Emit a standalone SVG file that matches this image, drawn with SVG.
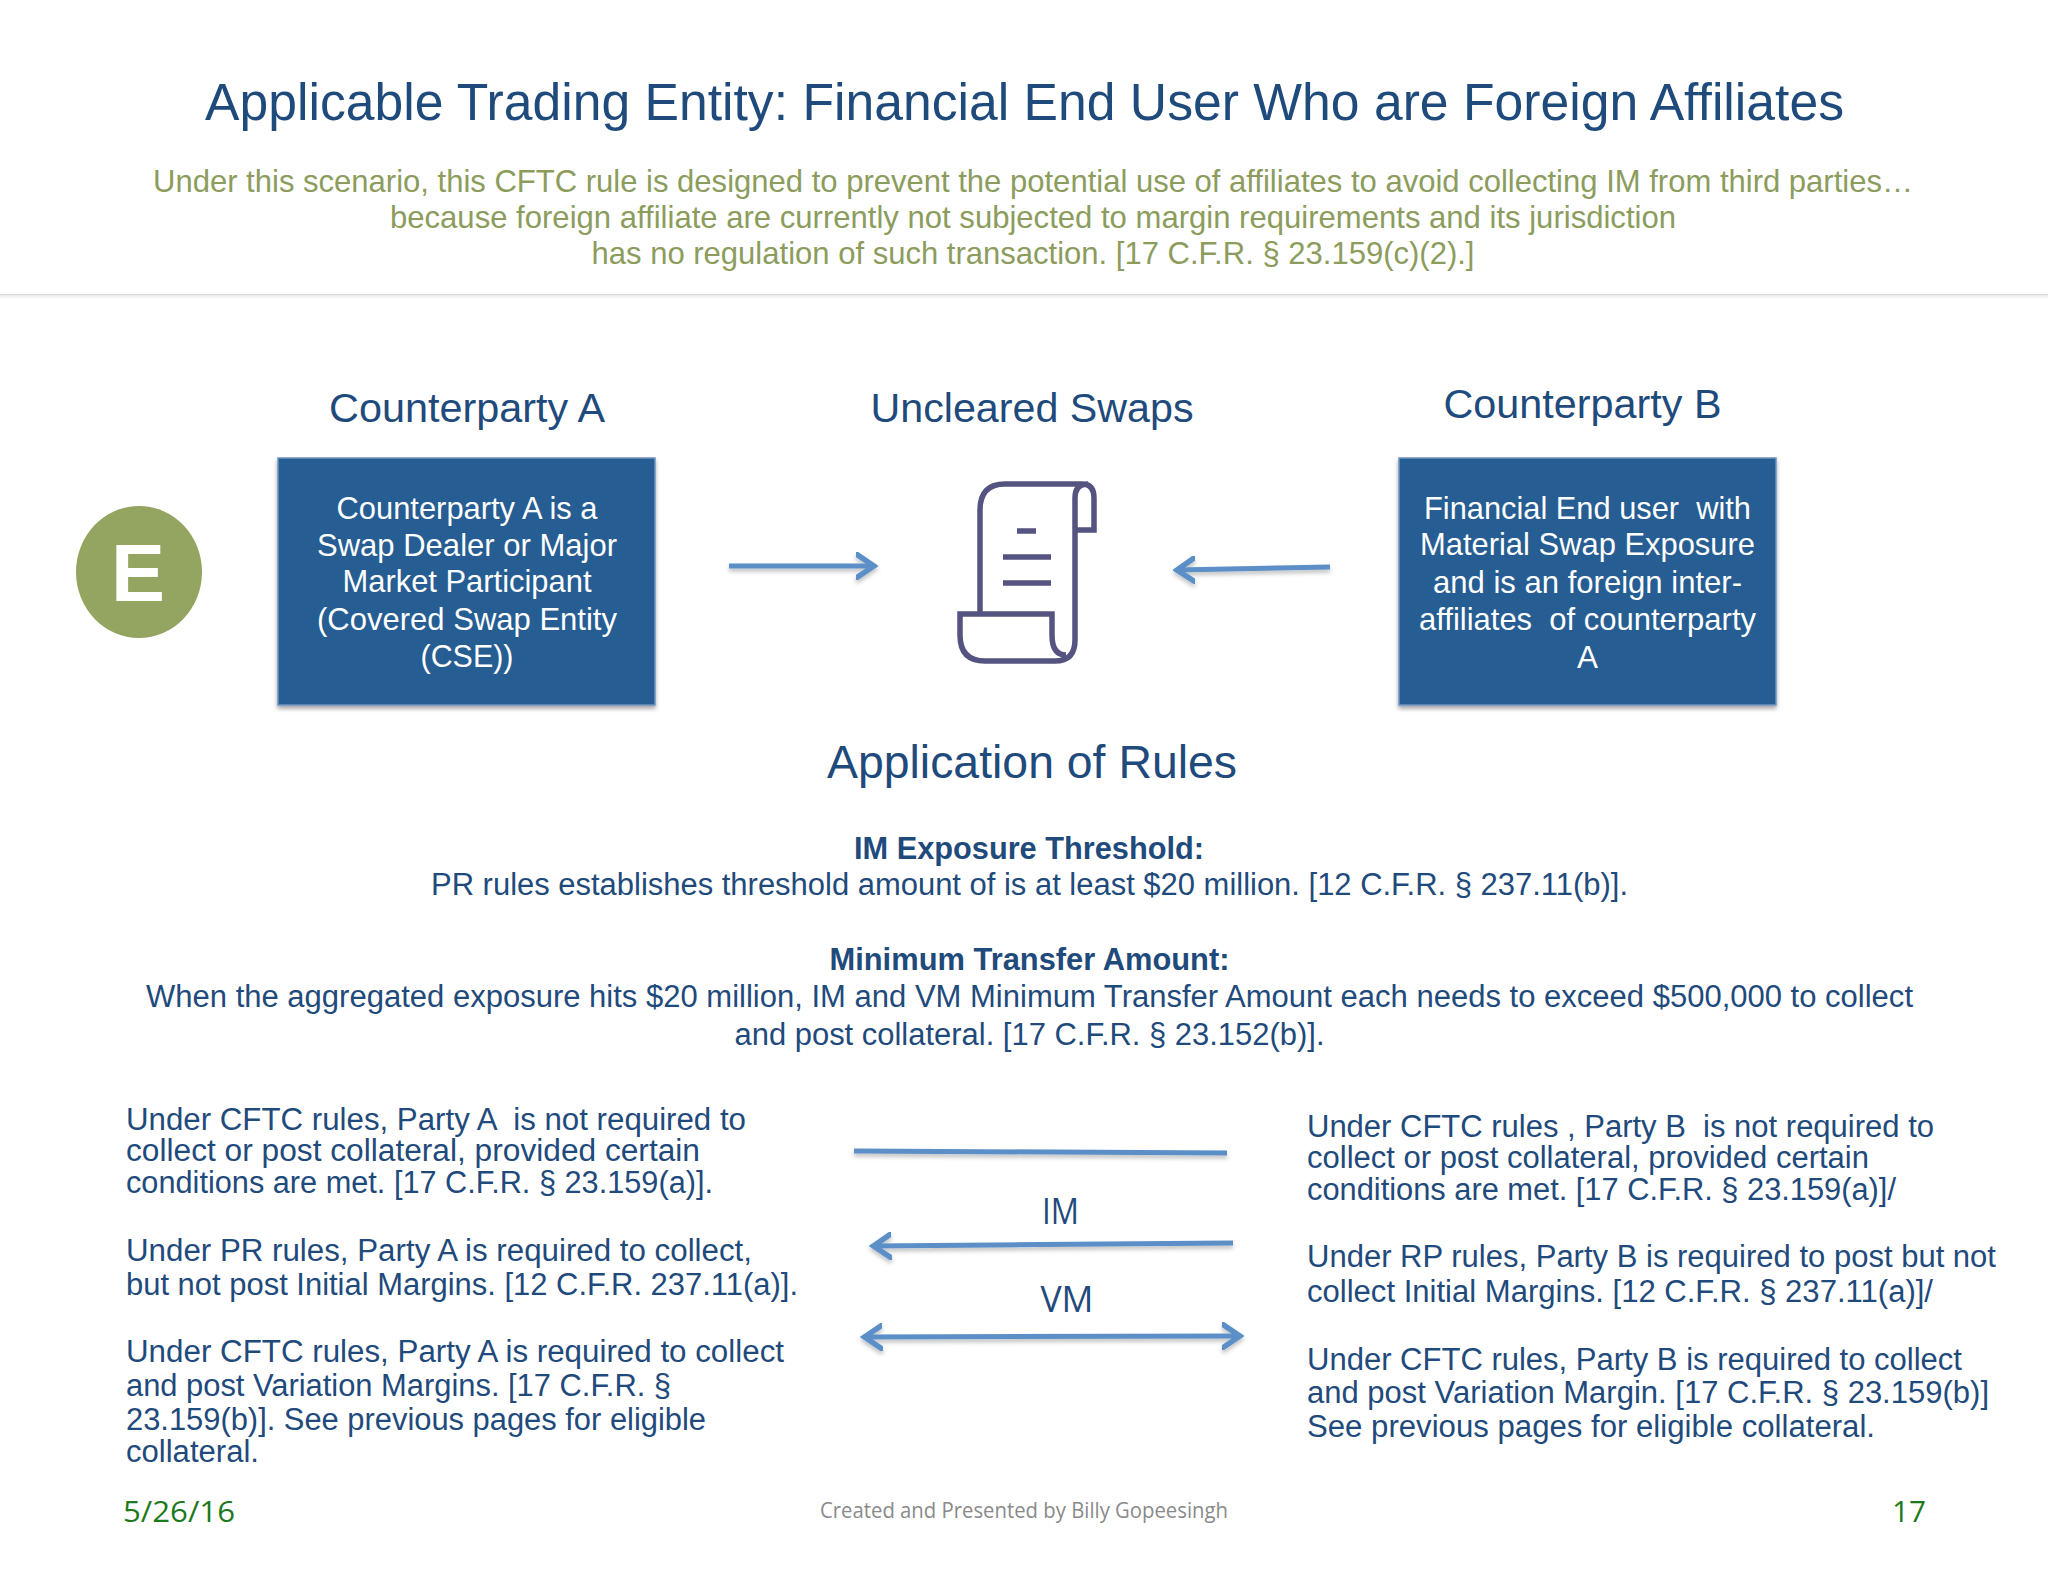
<svg xmlns="http://www.w3.org/2000/svg" width="2048" height="1582" viewBox="0 0 2048 1582">
<style>
text{font-family:"Liberation Sans",Arial,sans-serif;text-anchor:middle;fill:#1f4a7c;white-space:pre}
.l{text-anchor:start}
.title{font-size:51px}
.sub{font-size:31.5px;fill:#8c9c5d}
.head{font-size:41.5px}
.body{font-size:31px}
.side{font-size:31px}
.b{font-weight:bold}
.box{fill:#285d92;stroke:#6c94c0;stroke-width:1.5;filter:url(#sh)}
.boxt{font-size:31.5px;fill:#fff}
.conn{fill:none;stroke:#5b8fc7;stroke-width:5;filter:url(#sh2)}
.ic{fill:none;stroke:#555380;stroke-width:5.5}
.op{font-family:"Open Sans",sans-serif}
.foot{font-family:"Open Sans",sans-serif;fill:#1c7a1c;font-size:30px}
</style>
<defs>
<filter id="sh" filterUnits="userSpaceOnUse" x="0" y="0" width="2048" height="1582"><feDropShadow dx="0" dy="3" stdDeviation="2" flood-color="#000" flood-opacity=".35"/></filter>
<filter id="sh2" filterUnits="userSpaceOnUse" x="0" y="0" width="2048" height="1582"><feDropShadow dx="0" dy="3" stdDeviation="2" flood-color="#000" flood-opacity=".25"/></filter>
<linearGradient id="rl" x1="0" y1="0" x2="0" y2="1"><stop offset="0" stop-color="#c9ccd0"/><stop offset=".25" stop-color="#e8eaec"/><stop offset="1" stop-color="#fff"/></linearGradient>
<marker id="ah" viewBox="-18 -14 22 28" markerWidth="22" markerHeight="28" refX="0" refY="0" markerUnits="userSpaceOnUse" orient="auto-start-reverse"><path d="M-17-11.500L0 0L-17 11.500" fill="none" stroke="#5b8fc7" stroke-width="5.500" stroke-linecap="round"/></marker>
</defs>
<rect width="2048" height="1582" fill="#fff"/>
<g id="header">
<text class="title" x="1024.500" y="120" textLength="1639" lengthAdjust="spacingAndGlyphs">Applicable Trading Entity: Financial End User Who are Foreign Affiliates</text>
<text class="sub" x="1033" y="192" textLength="1760" lengthAdjust="spacingAndGlyphs">Under this scenario, this CFTC rule is designed to prevent the potential use of affiliates to avoid collecting IM from third parties…</text>
<text class="sub" x="1033" y="228" textLength="1286" lengthAdjust="spacingAndGlyphs">because foreign affiliate are currently not subjected to margin requirements and its jurisdiction</text>
<text class="sub" x="1033" y="264" textLength="883" lengthAdjust="spacingAndGlyphs">has no regulation of such transaction. [17 C.F.R. § 23.159(c)(2).]</text>
<rect x="0" y="294" width="2048" height="5" fill="url(#rl)"/>
</g>
<g id="node-e"><ellipse cx="139" cy="572" rx="63" ry="66" fill="#94a461"/><text x="138" y="601" style="font-weight:bold;font-size:81px;fill:#fff">E</text></g>
<g id="node-a">
<text class="head" x="467" y="422" textLength="276" lengthAdjust="spacingAndGlyphs">Counterparty A</text>
<rect class="box" x="278" y="458" width="377" height="247"/>
<text class="boxt" x="467" y="519" textLength="261" lengthAdjust="spacingAndGlyphs">Counterparty A is a</text>
<text class="boxt" x="467" y="556" textLength="300" lengthAdjust="spacingAndGlyphs">Swap Dealer or Major</text>
<text class="boxt" x="467" y="592" textLength="249" lengthAdjust="spacingAndGlyphs">Market Participant</text>
<text class="boxt" x="467" y="630" textLength="300" lengthAdjust="spacingAndGlyphs">(Covered Swap Entity</text>
<text class="boxt" x="467" y="667" textLength="93" lengthAdjust="spacingAndGlyphs">(CSE))</text>
</g>
<g id="node-swaps">
<text class="head" x="1032" y="422" textLength="323" lengthAdjust="spacingAndGlyphs">Uncleared Swaps</text>
<path class="ic" d="M980 614V510Q980 484 1005 484H1082Q1094 484 1094 498V530H1075M1088 484Q1075 484 1075 498V640Q1075 661 1055 661H985Q960 661 960 635V614H1052V635Q1052 655 1066 655"/>
<path class="ic" d="M1017 531H1036M1003 557H1051M1003 583H1051"/>
</g>
<g id="node-b">
<text class="head" x="1582.500" y="418" textLength="278" lengthAdjust="spacingAndGlyphs">Counterparty B</text>
<rect class="box" x="1399" y="458" width="377" height="247"/>
<text class="boxt" x="1587.500" y="519" textLength="327" lengthAdjust="spacingAndGlyphs">Financial End user  with</text>
<text class="boxt" x="1587.500" y="555" textLength="335" lengthAdjust="spacingAndGlyphs">Material Swap Exposure</text>
<text class="boxt" x="1587.500" y="593" textLength="309" lengthAdjust="spacingAndGlyphs">and is an foreign inter-</text>
<text class="boxt" x="1587.500" y="630" textLength="337" lengthAdjust="spacingAndGlyphs">affiliates  of counterparty</text>
<text class="boxt" x="1587.500" y="668">A</text>
</g>
<g id="connectors">
<path class="conn" d="M729 566H874" marker-end="url(#ah)"/>
<path class="conn" d="M1330 567L1177 570" marker-end="url(#ah)"/>
<path class="conn" d="M854 1151L1227 1153"/>
<path class="conn" d="M1233 1243L873.500 1246" marker-end="url(#ah)"/>
<path class="conn" d="M864.500 1337L1240 1336" marker-start="url(#ah)" marker-end="url(#ah)"/>
</g>
<g id="rules">
<text x="1032" y="778" style="font-size:46px" textLength="410" lengthAdjust="spacingAndGlyphs">Application of Rules</text>
<text class="body b" x="1029" y="859" textLength="350" lengthAdjust="spacingAndGlyphs">IM Exposure Threshold:</text>
<text class="body" x="1029.500" y="895" textLength="1197" lengthAdjust="spacingAndGlyphs">PR rules establishes threshold amount of is at least $20 million. [12 C.F.R. § 237.11(b)].</text>
<text class="body b" x="1029.500" y="970" textLength="400" lengthAdjust="spacingAndGlyphs">Minimum Transfer Amount:</text>
<text class="body" x="1029.500" y="1007" textLength="1767" lengthAdjust="spacingAndGlyphs">When the aggregated exposure hits $20 million, IM and VM Minimum Transfer Amount each needs to exceed $500,000 to collect</text>
<text class="body" x="1029.500" y="1045" textLength="590" lengthAdjust="spacingAndGlyphs">and post collateral. [17 C.F.R. § 23.152(b)].</text>
</g>
<g id="party-a-text">
<text class="side l" x="126" y="1130" textLength="620" lengthAdjust="spacingAndGlyphs">Under CFTC rules, Party A  is not required to</text>
<text class="side l" x="126" y="1161" textLength="574" lengthAdjust="spacingAndGlyphs">collect or post collateral, provided certain</text>
<text class="side l" x="126" y="1193" textLength="587" lengthAdjust="spacingAndGlyphs">conditions are met. [17 C.F.R. § 23.159(a)].</text>
<text class="side l" x="126" y="1261" textLength="626" lengthAdjust="spacingAndGlyphs">Under PR rules, Party A is required to collect,</text>
<text class="side l" x="126" y="1295" textLength="672" lengthAdjust="spacingAndGlyphs">but not post Initial Margins. [12 C.F.R. 237.11(a)].</text>
<text class="side l" x="126" y="1362" textLength="658" lengthAdjust="spacingAndGlyphs">Under CFTC rules, Party A is required to collect</text>
<text class="side l" x="126" y="1396" textLength="545" lengthAdjust="spacingAndGlyphs">and post Variation Margins. [17 C.F.R. §</text>
<text class="side l" x="126" y="1430" textLength="580" lengthAdjust="spacingAndGlyphs">23.159(b)]. See previous pages for eligible</text>
<text class="side l" x="126" y="1462" textLength="133" lengthAdjust="spacingAndGlyphs">collateral.</text>
</g>
<g id="labels">
<text class="op" x="1060.500" y="1224" style="font-size:37px" textLength="37" lengthAdjust="spacingAndGlyphs">IM</text>
<text class="op" x="1067" y="1312" style="font-size:37px" textLength="53" lengthAdjust="spacingAndGlyphs">VM</text>
</g>
<g id="party-b-text">
<text class="side l" x="1307" y="1137" textLength="627" lengthAdjust="spacingAndGlyphs">Under CFTC rules , Party B  is not required to</text>
<text class="side l" x="1307" y="1168" textLength="562" lengthAdjust="spacingAndGlyphs">collect or post collateral, provided certain</text>
<text class="side l" x="1307" y="1200" textLength="589" lengthAdjust="spacingAndGlyphs">conditions are met. [17 C.F.R. § 23.159(a)]/</text>
<text class="side l" x="1307" y="1267" textLength="689" lengthAdjust="spacingAndGlyphs">Under RP rules, Party B is required to post but not</text>
<text class="side l" x="1307" y="1302" textLength="626" lengthAdjust="spacingAndGlyphs">collect Initial Margins. [12 C.F.R. § 237.11(a)]/</text>
<text class="side l" x="1307" y="1370" textLength="655" lengthAdjust="spacingAndGlyphs">Under CFTC rules, Party B is required to collect</text>
<text class="side l" x="1307" y="1403" textLength="682" lengthAdjust="spacingAndGlyphs">and post Variation Margin. [17 C.F.R. § 23.159(b)]</text>
<text class="side l" x="1307" y="1437" textLength="568" lengthAdjust="spacingAndGlyphs">See previous pages for eligible collateral.</text>
</g>
<g id="footer">
<text class="foot l" x="123" y="1522" textLength="112" lengthAdjust="spacingAndGlyphs">5/26/16</text>
<text class="op" x="1024" y="1518" style="font-size:21px;fill:#8a8a8a" textLength="408" lengthAdjust="spacingAndGlyphs">Created and Presented by Billy Gopeesingh</text>
<text class="foot" x="1909" y="1522" textLength="34" lengthAdjust="spacingAndGlyphs">17</text>
</g>
</svg>
